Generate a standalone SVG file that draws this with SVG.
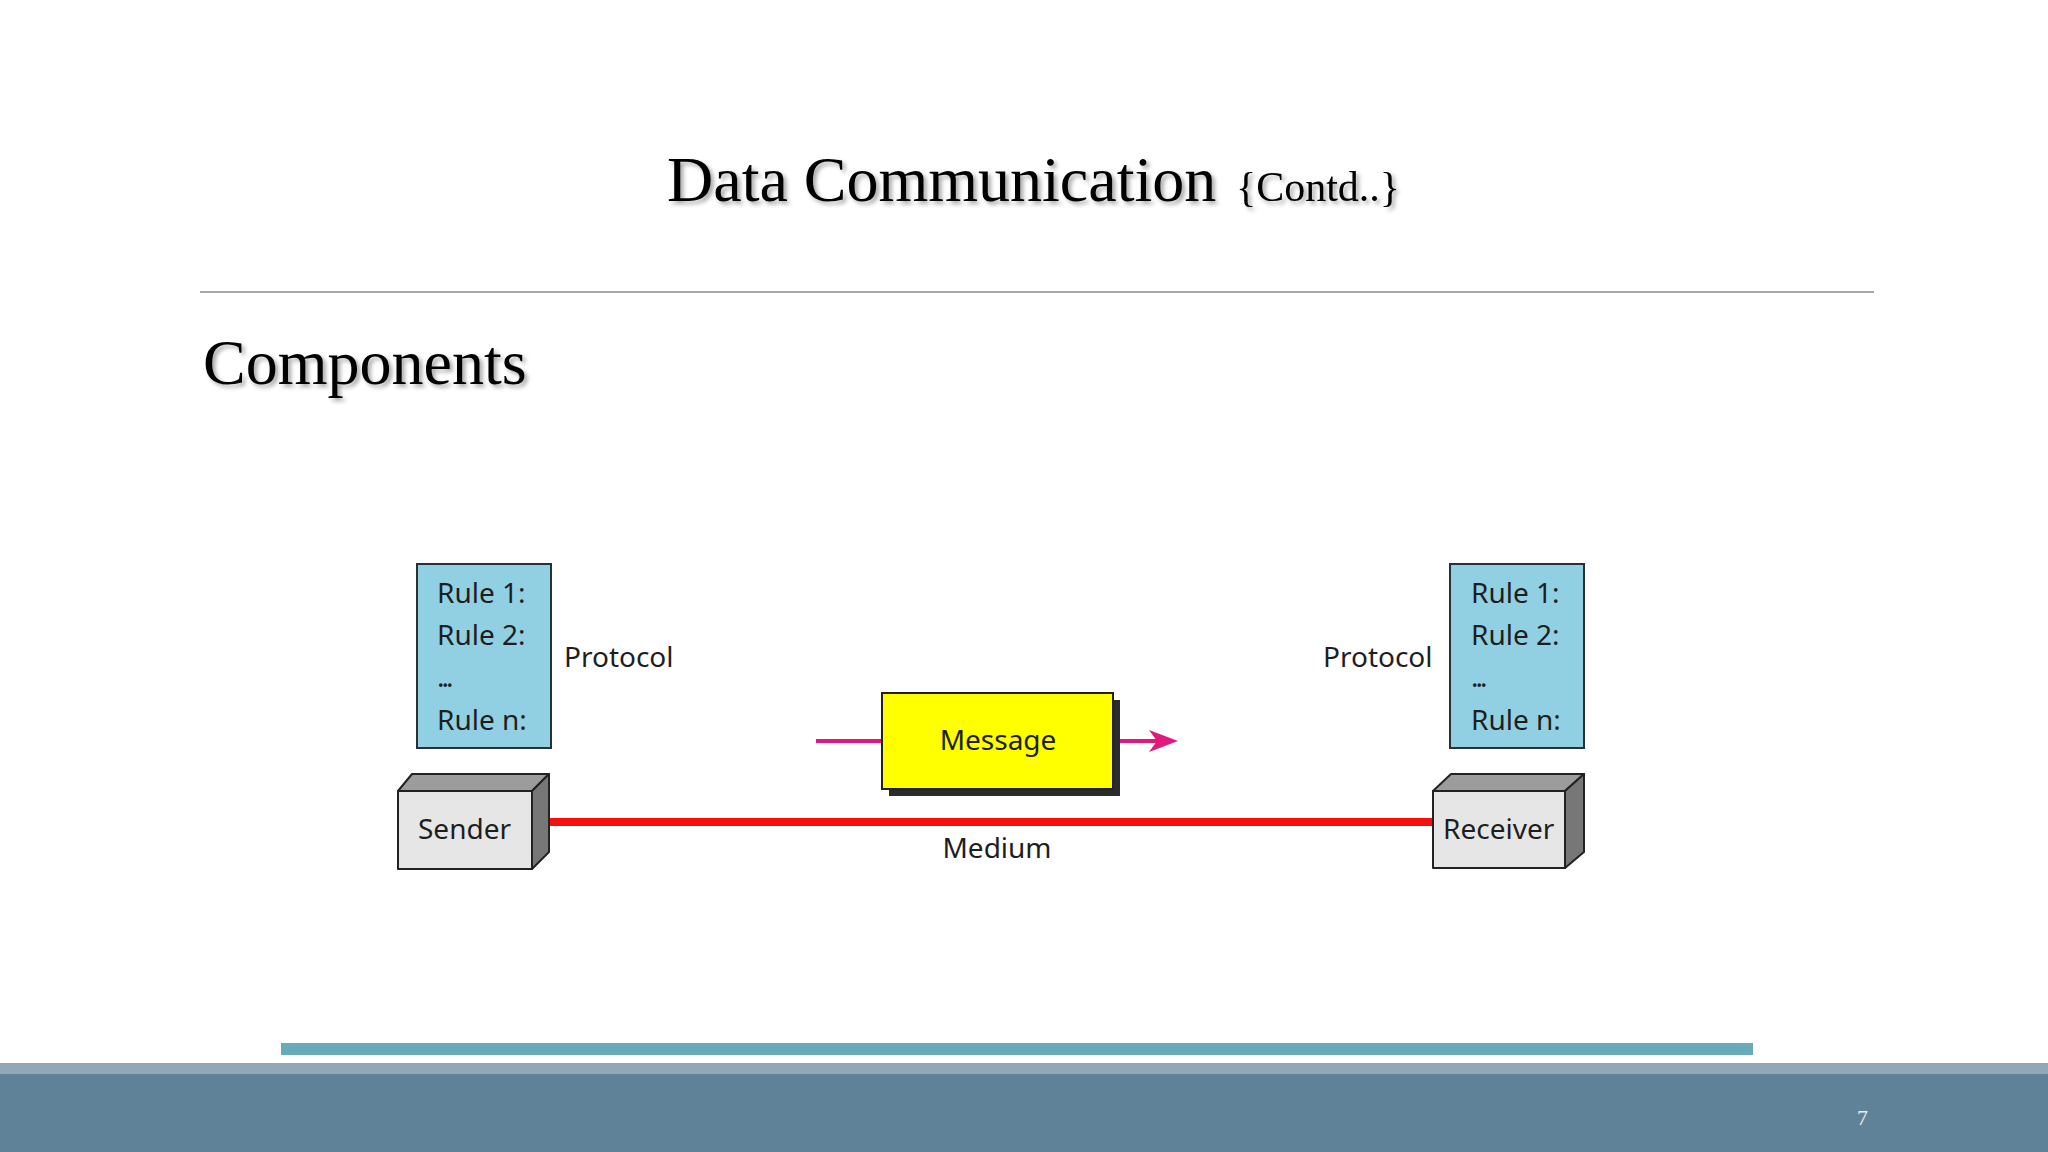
<svg xmlns="http://www.w3.org/2000/svg" width="2048" height="1152" viewBox="0 0 2048 1152">
  <defs>
    <filter id="tshadow" x="-5%" y="-20%" width="110%" height="150%">
      <feDropShadow dx="3" dy="3" stdDeviation="2" flood-color="#000" flood-opacity="0.35"/>
    </filter>
    <style>
      .serif { font-family: "Liberation Serif", "Times New Roman", serif; fill: #000; }
      .lbl { font-family: "Noto Sans", "Open Sans", sans-serif; font-size: 28px; fill: #1e1e1e; }
      .rules { fill: #91d0e2; stroke: #263238; stroke-width: 2; }
      .front { fill: #e6e6e6; stroke: #222; stroke-width: 2; stroke-linejoin: round; }
      .top { fill: #9c9c9c; stroke: #222; stroke-width: 2; stroke-linejoin: round; }
      .side { fill: #777; stroke: #222; stroke-width: 2; stroke-linejoin: round; }
      .pink { stroke: #e2197c; stroke-width: 4; fill: none; }
    </style>
  </defs>
  <rect x="0" y="0" width="2048" height="1152" fill="#ffffff"/>

  <!-- Title -->
  <g id="title" filter="url(#tshadow)">
    <text class="serif" x="667" y="201" font-size="64">Data Communication</text>
    <text class="serif" x="1236" y="201" font-size="42">{Contd..}</text>
  </g>
  <line x1="200" y1="292" x2="1874" y2="292" stroke="#a8a8a8" stroke-width="2"/>
  <g id="subtitle" filter="url(#tshadow)">
    <text class="serif" x="203" y="384" font-size="64">Components</text>
  </g>

  <!-- Connectors -->
  <g id="connectors">
    <line x1="542" y1="822" x2="1433" y2="822" stroke="#f50f0f" stroke-width="8" stroke-linecap="round"/>
    <line class="pink" x1="816" y1="741" x2="882" y2="741"/>
    <line class="pink" x1="1113" y1="741" x2="1160" y2="741"/>
    <polygon points="1178,741 1149,730 1157,741 1149,752" fill="#e2197c"/>
  </g>

  <!-- Left protocol -->
  <g id="protocol-left">
    <rect class="rules" x="417" y="564" width="134" height="184"/>
    <text class="lbl" x="437" y="603">Rule 1:</text>
    <text class="lbl" x="437" y="645">Rule 2:</text>
    <text class="lbl" x="437" y="687" letter-spacing="-3">...</text>
    <text class="lbl" x="437" y="730">Rule n:</text>
    <text class="lbl" x="564" y="667">Protocol</text>
  </g>

  <!-- Right protocol -->
  <g id="protocol-right">
    <rect class="rules" x="1450" y="564" width="134" height="184"/>
    <text class="lbl" x="1471" y="603">Rule 1:</text>
    <text class="lbl" x="1471" y="645">Rule 2:</text>
    <text class="lbl" x="1471" y="687" letter-spacing="-3">...</text>
    <text class="lbl" x="1471" y="730">Rule n:</text>
    <text class="lbl" x="1323" y="667">Protocol</text>
  </g>

  <!-- Sender -->
  <g id="sender">
    <polygon class="top" points="398,791 412,774 549,774 532,791"/>
    <polygon class="side" points="532,791 549,774 549,852 532,869"/>
    <rect class="front" x="398" y="791" width="134" height="78"/>
    <text class="lbl" x="418" y="839">Sender</text>
  </g>

  <!-- Receiver -->
  <g id="receiver">
    <polygon class="top" points="1433,791 1451,774 1584,774 1565,791"/>
    <polygon class="side" points="1565,791 1584,774 1584,852 1565,868"/>
    <rect class="front" x="1433" y="791" width="132" height="77"/>
    <text class="lbl" x="1443" y="839">Receiver</text>
  </g>

  <!-- Message -->
  <g id="message">
    <rect x="889" y="700" width="231" height="96" fill="#2b2b2b"/>
    <rect x="882" y="693" width="231" height="96" fill="#ffff00" stroke="#222" stroke-width="2"/>
    <text class="lbl" x="998" y="750" text-anchor="middle">Message</text>
  </g>

  <!-- Medium label -->
  <g id="medium">
    <text class="lbl" x="997" y="858" text-anchor="middle">Medium</text>
  </g>

  <!-- Footer -->
  <rect x="281" y="1043" width="1472" height="12" fill="#67abbb"/>
  <rect x="0" y="1063" width="2048" height="11" fill="#93a7b7"/>
  <rect x="0" y="1074" width="2048" height="78" fill="#5f8298"/>
  <text x="1857" y="1125" font-family="Liberation Serif, serif" font-size="22" fill="#e8eef2">7</text>
</svg>
